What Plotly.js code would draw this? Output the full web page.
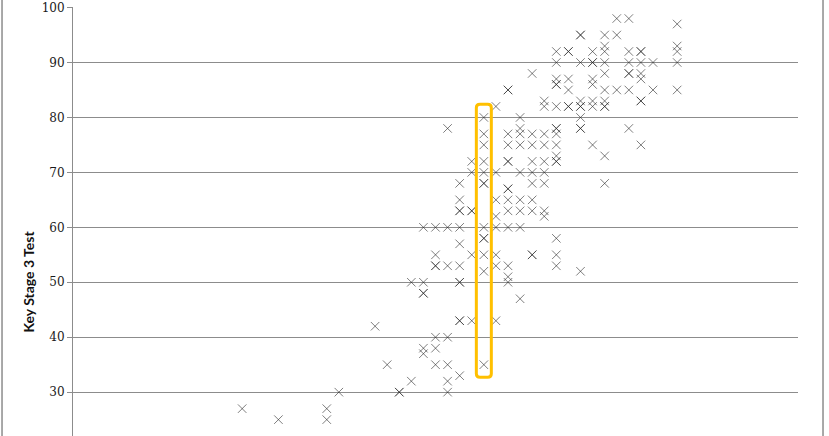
<!DOCTYPE html>
<html>
<head>
<meta charset="utf-8">
<script src="https://cdn.plot.ly/plotly-3.0.1.min.js"></script>
<style>
  html, body { margin: 0; padding: 0; overflow: hidden; background: #fff; }
  #chart { width: 829px; height: 592px; }
</style>
</head>
<body>
<div id="chart"></div>
<script>
// Key Stage 2 score (x, columns) and Key Stage 3 test score (y) for each pupil
const ks2Scores = [
  14,
  17,
  21, 21,
  22,
  25,
  26,
  27, 27,
  28, 28,
  29, 29, 29, 29, 29, 29,
  30, 30, 30, 30, 30, 30, 30,
  31, 31, 31, 31, 31, 31, 31,
  32, 32, 32, 32, 32, 32, 32, 32, 32, 32, 32, 32,
  33, 33, 33, 33, 33, 33,
  34, 34, 34, 34, 34, 34, 34, 34, 34, 34, 34, 34, 34,
  35, 35, 35, 35, 35, 35, 35, 35,
  36, 36, 36, 36, 36, 36, 36, 36, 36, 36, 36, 36, 36, 36,
  37, 37, 37, 37, 37, 37, 37, 37, 37,
  38, 38, 38, 38, 38, 38, 38, 38, 38, 38,
  39, 39, 39, 39, 39, 39, 39, 39, 39,
  40, 40, 40, 40, 40, 40, 40, 40, 40, 40, 40, 40, 40, 40, 40, 40,
  41, 41, 41, 41, 41, 41,
  42, 42, 42, 42, 42, 42, 42, 42, 42, 42,
  43, 43, 43, 43, 43, 43, 43, 43,
  44, 44, 44, 44, 44, 44, 44, 44, 44, 44, 44,
  45, 45, 45,
  46, 46, 46, 46, 46, 46, 46,
  47, 47, 47, 47, 47, 47, 47, 47,
  48, 48,
  50, 50, 50, 50, 50
];
const ks3Scores = [
  27,
  25,
  27, 25,
  30,
  42,
  35,
  30, 30,
  50, 32,
  60, 50, 48, 48, 38, 37,
  60, 55, 53, 53, 40, 38, 35,
  78, 60, 53, 40, 35, 32, 30,
  68, 65, 63, 63, 60, 57, 53, 50, 50, 43, 43, 33,
  72, 70, 63, 63, 55, 43,
  80, 77, 75, 72, 70, 68, 68, 60, 58, 58, 55, 52, 35,
  82, 70, 65, 62, 60, 55, 53, 43,
  85, 85, 77, 75, 72, 72, 67, 67, 65, 63, 60, 53, 51, 50,
  80, 78, 77, 75, 70, 65, 63, 60, 47,
  88, 77, 75, 72, 70, 68, 65, 63, 55, 55,
  83, 82, 77, 75, 72, 70, 68, 63, 62,
  92, 90, 87, 86, 86, 82, 78, 78, 77, 75, 73, 72, 72, 58, 55, 53,
  92, 92, 87, 85, 82, 82,
  95, 95, 90, 83, 82, 82, 80, 78, 78, 52,
  92, 90, 90, 87, 86, 83, 82, 75,
  95, 93, 92, 90, 88, 85, 83, 82, 82, 73, 68,
  98, 95, 85,
  98, 92, 90, 88, 88, 85, 78,
  92, 92, 90, 88, 87, 83, 83, 75,
  90, 85,
  97, 93, 92, 90, 85
];
// tick labels visible in the (cropped) chart
const yTickValues = [30, 40, 50, 60, 70, 80, 90, 100];
const highlightedScore = 34;

// highlight box around the chosen column, derived from its data
const colVals = ks3Scores.filter((v, i) => ks2Scores[i] === highlightedScore);
const bx0 = highlightedScore - 0.62, bx1 = highlightedScore + 0.62;
const by0 = Math.min(...colVals) - 2.3, by1 = Math.max(...colVals) + 2.4;
const rx = 0.3, ry = 0.65;
const boxPath =
  'M' + (bx0 + rx) + ',' + by1 +
  ' L' + (bx1 - rx) + ',' + by1 +
  ' Q' + bx1 + ',' + by1 + ' ' + bx1 + ',' + (by1 - ry) +
  ' L' + bx1 + ',' + (by0 + ry) +
  ' Q' + bx1 + ',' + by0 + ' ' + (bx1 - rx) + ',' + by0 +
  ' L' + (bx0 + rx) + ',' + by0 +
  ' Q' + bx0 + ',' + by0 + ' ' + bx0 + ',' + (by0 + ry) +
  ' L' + bx0 + ',' + (by1 - ry) +
  ' Q' + bx0 + ',' + by1 + ' ' + (bx0 + rx) + ',' + by1 + ' Z';

const trace = {
  type: 'scatter',
  mode: 'markers',
  x: ks2Scores,
  y: ks3Scores,
  marker: {
    symbol: 'x-thin',
    size: 8.5,
    color: 'rgba(40,40,40,0.6)',
    line: { width: 1, color: 'rgba(40,40,40,0.6)' }
  },
  hoverinfo: 'x+y',
  cliponaxis: false
};

const layout = {
  width: 829,
  height: 592,
  margin: { l: 73, r: 31, t: 6.5, b: 35 },
  paper_bgcolor: '#ffffff',
  plot_bgcolor: '#ffffff',
  showlegend: false,
  xaxis: {
    range: [0, 60],
    showgrid: false,
    zeroline: false,
    showline: true,
    linecolor: '#8a8a8a',
    ticks: 'outside',
    tickcolor: '#8a8a8a',
    dtick: 10,
    showticklabels: false
  },
  yaxis: {
    range: [0, 100.1],
    tickvals: yTickValues,
    ticktext: yTickValues.map(String),
    ticklabeloverflow: 'allow',
    showgrid: true,
    gridcolor: '#8c8c8c',
    gridwidth: 1,
    zeroline: false,
    showline: true,
    linecolor: '#8c8c8c',
    linewidth: 1,
    ticks: 'outside',
    ticklen: 5,
    tickcolor: '#8c8c8c',
    tickfont: { family: 'DejaVu Serif', size: 12, color: '#1a1a1a' },
    title: {
      text: '<b>Key Stage 3 Test</b>',
      font: { family: 'Lato', size: 14, color: '#111111' },
      standoff: 3
    }
  },
  shapes: [
    {
      type: 'path', xref: 'x', yref: 'y', path: boxPath,
      line: { color: '#FFC000', width: 3 }, fillcolor: 'rgba(0,0,0,0)', layer: 'above'
    },
    {
      type: 'line', xref: 'paper', yref: 'paper',
      x0: -0.0979, x1: -0.0979, y0: -0.2, y1: 1.2,
      line: { color: '#8c8c8c', width: 1.5 }
    },
    {
      type: 'line', xref: 'paper', yref: 'paper',
      x0: 1.0345, x1: 1.0345, y0: -0.2, y1: 1.2,
      line: { color: '#8c8c8c', width: 1.5 }
    }
  ]
};

Plotly.newPlot('chart', [trace], layout, { displayModeBar: false, staticPlot: true });
</script>
</body>
</html>
